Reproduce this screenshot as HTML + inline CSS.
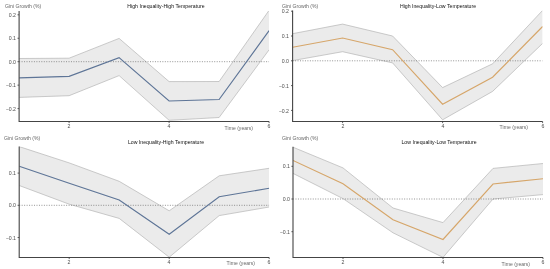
<!DOCTYPE html>
<html><head><meta charset="utf-8"><style>
html,body{margin:0;padding:0;background:#fff;width:550px;height:269px;overflow:hidden;position:relative}
svg{display:block;position:absolute;left:0;top:0}
.t{position:absolute;font-family:"Liberation Sans",sans-serif;font-size:50px;line-height:50px;white-space:nowrap;transform-origin:0 0}
#tx{position:absolute;left:0;top:0;width:550px;height:269px;will-change:transform}
</style></head><body>
<svg width="550" height="269" viewBox="0 0 550 269">
<rect width="550" height="269" fill="#fff"/>
<clipPath id="c0"><rect x="19.1" y="11" width="250" height="110.5"/></clipPath>
<g clip-path="url(#c0)">
<polygon points="19.1,58.5 69.1,58.2 119.1,38.4 169.1,81.6 219.1,81.5 269.1,10.3 269.1,49.8 219.1,117.5 169.1,120.3 119.1,75.6 69.1,95.7 19.1,97.4" fill="#ebebeb" stroke="none"/>
<polyline points="19.1,58.5 69.1,58.2 119.1,38.4 169.1,81.6 219.1,81.5 269.1,10.3" fill="none" stroke="#b5b5b5" stroke-width="0.7"/>
<polyline points="19.1,97.4 69.1,95.7 119.1,75.6 169.1,120.3 219.1,117.5 269.1,49.8" fill="none" stroke="#b5b5b5" stroke-width="0.7"/>
<line x1="19.1" y1="61.7" x2="269.1" y2="61.7" stroke="#666" stroke-width="0.7" stroke-dasharray="1,1.47"/>
<polyline points="19.1,77.9 69.1,76.4 119.1,57.6 169.1,101 219.1,99.5 269.1,30.7" fill="none" stroke="#5e7597" stroke-width="1.15"/>
</g>
<path d="M19.1,11V121.5H269.1" fill="none" stroke="#444" stroke-width="1.1"/>
<line x1="17.5" y1="14.8" x2="19.1" y2="14.8" stroke="#3a3a3a" stroke-width="0.8"/>
<line x1="17.5" y1="38.25" x2="19.1" y2="38.25" stroke="#3a3a3a" stroke-width="0.8"/>
<line x1="17.5" y1="61.7" x2="19.1" y2="61.7" stroke="#3a3a3a" stroke-width="0.8"/>
<line x1="17.5" y1="85.15" x2="19.1" y2="85.15" stroke="#3a3a3a" stroke-width="0.8"/>
<line x1="17.5" y1="108.6" x2="19.1" y2="108.6" stroke="#3a3a3a" stroke-width="0.8"/>
<line x1="69.1" y1="121.5" x2="69.1" y2="123.1" stroke="#3a3a3a" stroke-width="0.8"/>
<line x1="169.1" y1="121.5" x2="169.1" y2="123.1" stroke="#3a3a3a" stroke-width="0.8"/>
<line x1="269.1" y1="121.5" x2="269.1" y2="123.1" stroke="#3a3a3a" stroke-width="0.8"/>
<clipPath id="c1"><rect x="292.6" y="10.6" width="250" height="110.9"/></clipPath>
<g clip-path="url(#c1)">
<polygon points="292.6,33.7 342.6,24.1 392.6,36 442.6,87.6 492.6,63.8 542.6,10.4 542.6,43.4 492.6,91.4 442.6,119.8 392.6,62.9 342.6,51.7 292.6,60.6" fill="#ebebeb" stroke="none"/>
<polyline points="292.6,33.7 342.6,24.1 392.6,36 442.6,87.6 492.6,63.8 542.6,10.4" fill="none" stroke="#b5b5b5" stroke-width="0.7"/>
<polyline points="292.6,60.6 342.6,51.7 392.6,62.9 442.6,119.8 492.6,91.4 542.6,43.4" fill="none" stroke="#b5b5b5" stroke-width="0.7"/>
<line x1="292.6" y1="60.8" x2="542.6" y2="60.8" stroke="#666" stroke-width="0.7" stroke-dasharray="1,1.47"/>
<polyline points="292.6,47.2 342.6,38 392.6,49.7 442.6,104.2 492.6,77.2 542.6,26.5" fill="none" stroke="#d6a66a" stroke-width="1.15"/>
</g>
<path d="M292.6,10.6V121.5H542.6" fill="none" stroke="#444" stroke-width="1.1"/>
<line x1="291" y1="11.2" x2="292.6" y2="11.2" stroke="#3a3a3a" stroke-width="0.8"/>
<line x1="291" y1="36" x2="292.6" y2="36" stroke="#3a3a3a" stroke-width="0.8"/>
<line x1="291" y1="60.8" x2="292.6" y2="60.8" stroke="#3a3a3a" stroke-width="0.8"/>
<line x1="291" y1="85.6" x2="292.6" y2="85.6" stroke="#3a3a3a" stroke-width="0.8"/>
<line x1="291" y1="110.4" x2="292.6" y2="110.4" stroke="#3a3a3a" stroke-width="0.8"/>
<line x1="342.6" y1="121.5" x2="342.6" y2="123.1" stroke="#3a3a3a" stroke-width="0.8"/>
<line x1="442.6" y1="121.5" x2="442.6" y2="123.1" stroke="#3a3a3a" stroke-width="0.8"/>
<line x1="542.6" y1="121.5" x2="542.6" y2="123.1" stroke="#3a3a3a" stroke-width="0.8"/>
<clipPath id="c2"><rect x="19.2" y="146.4" width="250" height="111.1"/></clipPath>
<g clip-path="url(#c2)">
<polygon points="19.2,146.6 69.2,162.9 119.2,181.3 169.2,210.8 219.2,175.8 269.2,168.3 269.2,207 219.2,215.6 169.2,257.2 119.2,218.4 69.2,204.2 19.2,185.5" fill="#ebebeb" stroke="none"/>
<polyline points="19.2,146.6 69.2,162.9 119.2,181.3 169.2,210.8 219.2,175.8 269.2,168.3" fill="none" stroke="#b5b5b5" stroke-width="0.7"/>
<polyline points="19.2,185.5 69.2,204.2 119.2,218.4 169.2,257.2 219.2,215.6 269.2,207" fill="none" stroke="#b5b5b5" stroke-width="0.7"/>
<line x1="19.2" y1="205.3" x2="269.2" y2="205.3" stroke="#666" stroke-width="0.7" stroke-dasharray="1,1.47"/>
<polyline points="19.2,166.3 69.2,183.2 119.2,200 169.2,234.2 219.2,196.8 269.2,188.2" fill="none" stroke="#5e7597" stroke-width="1.15"/>
</g>
<path d="M19.2,146.4V257.5H269.2" fill="none" stroke="#444" stroke-width="1.1"/>
<line x1="17.6" y1="173.1" x2="19.2" y2="173.1" stroke="#3a3a3a" stroke-width="0.8"/>
<line x1="17.6" y1="205.3" x2="19.2" y2="205.3" stroke="#3a3a3a" stroke-width="0.8"/>
<line x1="17.6" y1="237.5" x2="19.2" y2="237.5" stroke="#3a3a3a" stroke-width="0.8"/>
<line x1="69.2" y1="257.5" x2="69.2" y2="259.1" stroke="#3a3a3a" stroke-width="0.8"/>
<line x1="169.2" y1="257.5" x2="169.2" y2="259.1" stroke="#3a3a3a" stroke-width="0.8"/>
<line x1="269.2" y1="257.5" x2="269.2" y2="259.1" stroke="#3a3a3a" stroke-width="0.8"/>
<clipPath id="c3"><rect x="293" y="146.8" width="250" height="110.7"/></clipPath>
<g clip-path="url(#c3)">
<polygon points="293,147.2 343,167.9 393,208 443,222.6 493,168.4 543,163.5 543,194.6 493,199 443,257.4 393,232.8 343,198.6 293,173.4" fill="#ebebeb" stroke="none"/>
<polyline points="293,147.2 343,167.9 393,208 443,222.6 493,168.4 543,163.5" fill="none" stroke="#b5b5b5" stroke-width="0.7"/>
<polyline points="293,173.4 343,198.6 393,232.8 443,257.4 493,199 543,194.6" fill="none" stroke="#b5b5b5" stroke-width="0.7"/>
<line x1="293" y1="199" x2="543" y2="199" stroke="#666" stroke-width="0.7" stroke-dasharray="1,1.47"/>
<polyline points="293,160.4 343,183.8 393,219.8 443,239.5 493,184 543,178.7" fill="none" stroke="#d6a66a" stroke-width="1.15"/>
</g>
<path d="M293,146.8V257.5H543" fill="none" stroke="#444" stroke-width="1.1"/>
<line x1="291.4" y1="166.3" x2="293" y2="166.3" stroke="#3a3a3a" stroke-width="0.8"/>
<line x1="291.4" y1="199" x2="293" y2="199" stroke="#3a3a3a" stroke-width="0.8"/>
<line x1="291.4" y1="231.7" x2="293" y2="231.7" stroke="#3a3a3a" stroke-width="0.8"/>
<line x1="343" y1="257.5" x2="343" y2="259.1" stroke="#3a3a3a" stroke-width="0.8"/>
<line x1="443" y1="257.5" x2="443" y2="259.1" stroke="#3a3a3a" stroke-width="0.8"/>
<line x1="543" y1="257.5" x2="543" y2="259.1" stroke="#3a3a3a" stroke-width="0.8"/>
</svg>
<div id="tx">
<div class="t" style="left:15.7px;top:12.9px;color:#4d4d4d;transform:scale(0.1040) translateX(-100%)">0.2</div>
<div class="t" style="left:15.7px;top:36.35px;color:#4d4d4d;transform:scale(0.1040) translateX(-100%)">0.1</div>
<div class="t" style="left:15.7px;top:59.8px;color:#4d4d4d;transform:scale(0.1040) translateX(-100%)">0.0</div>
<div class="t" style="left:15.7px;top:83.25px;color:#4d4d4d;transform:scale(0.1040) translateX(-100%)">−0.1</div>
<div class="t" style="left:15.7px;top:106.7px;color:#4d4d4d;transform:scale(0.1040) translateX(-100%)">−0.2</div>
<div class="t" style="left:69.1px;top:124.1px;color:#4d4d4d;transform:scale(0.1040) translateX(-50%)">2</div>
<div class="t" style="left:169.1px;top:124.1px;color:#4d4d4d;transform:scale(0.1040) translateX(-50%)">4</div>
<div class="t" style="left:269.1px;top:124.1px;color:#4d4d4d;transform:scale(0.1040) translateX(-50%)">6</div>
<div class="t" style="left:4.5px;top:4.48px;color:#666;transform:scale(0.1020)">Gini Growth (%)</div>
<div class="t" style="left:253.1px;top:125.68px;color:#666;transform:scale(0.1020) translateX(-100%)">Time (years)</div>
<div class="t" style="left:165.7px;top:3.8px;color:#111;transform:scale(0.1040) translateX(-50%)">High Inequality-High Temperature</div>
<div class="t" style="left:289.2px;top:9.3px;color:#4d4d4d;transform:scale(0.1040) translateX(-100%)">0.2</div>
<div class="t" style="left:289.2px;top:34.1px;color:#4d4d4d;transform:scale(0.1040) translateX(-100%)">0.1</div>
<div class="t" style="left:289.2px;top:58.9px;color:#4d4d4d;transform:scale(0.1040) translateX(-100%)">0.0</div>
<div class="t" style="left:289.2px;top:83.7px;color:#4d4d4d;transform:scale(0.1040) translateX(-100%)">−0.1</div>
<div class="t" style="left:289.2px;top:108.5px;color:#4d4d4d;transform:scale(0.1040) translateX(-100%)">−0.2</div>
<div class="t" style="left:342.6px;top:124.1px;color:#4d4d4d;transform:scale(0.1040) translateX(-50%)">2</div>
<div class="t" style="left:442.6px;top:124.1px;color:#4d4d4d;transform:scale(0.1040) translateX(-50%)">4</div>
<div class="t" style="left:542.6px;top:124.1px;color:#4d4d4d;transform:scale(0.1040) translateX(-50%)">6</div>
<div class="t" style="left:282.4px;top:4.08px;color:#666;transform:scale(0.1020)">Gini Growth (%)</div>
<div class="t" style="left:527.6px;top:125.28px;color:#666;transform:scale(0.1020) translateX(-100%)">Time (years)</div>
<div class="t" style="left:438.4px;top:3.8px;color:#111;transform:scale(0.1040) translateX(-50%)">High Inequality-Low Temperature</div>
<div class="t" style="left:15.8px;top:171.2px;color:#4d4d4d;transform:scale(0.1040) translateX(-100%)">0.1</div>
<div class="t" style="left:15.8px;top:203.4px;color:#4d4d4d;transform:scale(0.1040) translateX(-100%)">0.0</div>
<div class="t" style="left:15.8px;top:235.6px;color:#4d4d4d;transform:scale(0.1040) translateX(-100%)">−0.1</div>
<div class="t" style="left:69.2px;top:260.1px;color:#4d4d4d;transform:scale(0.1040) translateX(-50%)">2</div>
<div class="t" style="left:169.2px;top:260.1px;color:#4d4d4d;transform:scale(0.1040) translateX(-50%)">4</div>
<div class="t" style="left:269.2px;top:260.1px;color:#4d4d4d;transform:scale(0.1040) translateX(-50%)">6</div>
<div class="t" style="left:4px;top:136.08px;color:#666;transform:scale(0.1020)">Gini Growth (%)</div>
<div class="t" style="left:254.8px;top:261.08px;color:#666;transform:scale(0.1020) translateX(-100%)">Time (years)</div>
<div class="t" style="left:166.1px;top:139.6px;color:#111;transform:scale(0.1040) translateX(-50%)">Low Inequality-High Temperature</div>
<div class="t" style="left:289.6px;top:164.4px;color:#4d4d4d;transform:scale(0.1040) translateX(-100%)">0.1</div>
<div class="t" style="left:289.6px;top:197.1px;color:#4d4d4d;transform:scale(0.1040) translateX(-100%)">0.0</div>
<div class="t" style="left:289.6px;top:229.8px;color:#4d4d4d;transform:scale(0.1040) translateX(-100%)">−0.1</div>
<div class="t" style="left:343px;top:260.1px;color:#4d4d4d;transform:scale(0.1040) translateX(-50%)">2</div>
<div class="t" style="left:443px;top:260.1px;color:#4d4d4d;transform:scale(0.1040) translateX(-50%)">4</div>
<div class="t" style="left:543px;top:260.1px;color:#4d4d4d;transform:scale(0.1040) translateX(-50%)">6</div>
<div class="t" style="left:282.2px;top:136.38px;color:#666;transform:scale(0.1020)">Gini Growth (%)</div>
<div class="t" style="left:529.8px;top:261.58px;color:#666;transform:scale(0.1020) translateX(-100%)">Time (years)</div>
<div class="t" style="left:438.8px;top:139.6px;color:#111;transform:scale(0.1040) translateX(-50%)">Low Inequality-Low Temperature</div>
</div>
</body></html>
